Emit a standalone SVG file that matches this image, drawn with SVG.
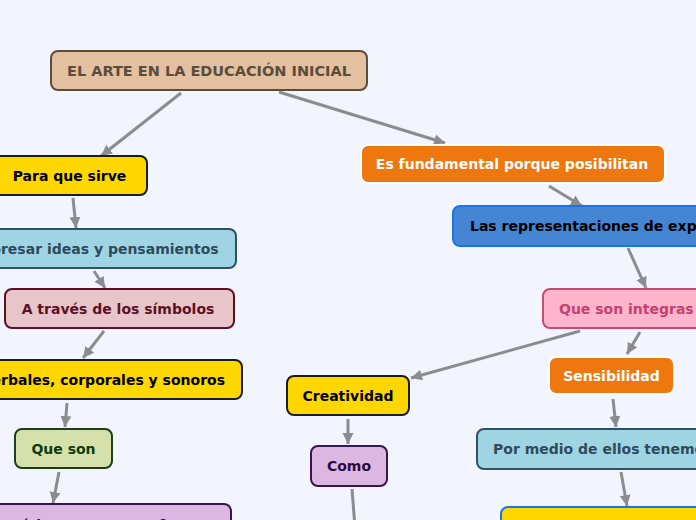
<svg xmlns="http://www.w3.org/2000/svg" width="696" height="520" viewBox="0 0 696 520">
<defs>
<marker id="arr" markerUnits="userSpaceOnUse" markerWidth="12" markerHeight="12" viewBox="0 0 12 12" refX="11" refY="6" orient="auto">
<path d="M0,0.5 L11,6 L0,11.5 z" fill="#8c8c90"/>
</marker>
<style>
text{font-family:"DejaVu Sans","Liberation Sans",sans-serif;font-weight:bold;font-size:14px;text-anchor:middle}
rect{stroke-width:2}
.conn line{stroke:#8c8c90;stroke-width:3;marker-end:url(#arr)}
.root rect{fill:#e2c0a0;stroke:#5b4c3c}.root text{fill:#5b4c3c;font-size:14.5px}
.gold rect{fill:#ffd700;stroke:#1c1c1c}.gold text{fill:#000}
.lblue rect{fill:#9fd5e2;stroke:#2e5068}.lblue text{fill:#2e4a5c}
.rose rect{fill:#e8c4cb;stroke:#5c1024}.rose text{fill:#5c1024}
.green rect{fill:#d5e0aa;stroke:#1d3d1d}.green text{fill:#0d3b12}
.lav rect{fill:#dbb7e1;stroke:#3a1450}.lav text{fill:#2c0a3e}
.orange rect{fill:#ee780f;stroke:#ffffff}.orange text{fill:#ffffff}
.blue rect{fill:#4586d4;stroke:#1a74e4}.blue text{fill:#000}
.pink rect{fill:#ffb6cd;stroke:#c84a72}.pink text{fill:#c8406c}
.goldb rect{fill:#ffd700;stroke:#1a74e4}
</style>
</defs>
<rect x="0" y="0" width="696" height="520" fill="#f2f5fe"/>
<g class="conn">
<line x1="181" y1="93" x2="101" y2="156"/>
<line x1="279" y1="92" x2="445" y2="143"/>
<line x1="73" y1="198" x2="76" y2="228"/>
<line x1="94" y1="271" x2="105" y2="288"/>
<line x1="104" y1="331" x2="83" y2="358"/>
<line x1="67" y1="403" x2="65" y2="427"/>
<line x1="59" y1="472" x2="53" y2="503"/>
<line x1="549" y1="186" x2="582" y2="206"/>
<line x1="628" y1="248" x2="646" y2="288"/>
<line x1="580" y1="331" x2="411" y2="378"/>
<line x1="640" y1="332" x2="627" y2="354"/>
<line x1="348" y1="419" x2="348" y2="444"/>
<line x1="613" y1="399" x2="616" y2="427"/>
<line x1="352" y1="489" x2="356" y2="540"/>
<line x1="621" y1="472" x2="627" y2="506"/>
</g>
<g id="root" class="root"><rect x="51" y="51" width="316" height="39" rx="7"/><text x="209" y="76">EL ARTE EN LA EDUCACIÓN INICIAL</text></g>
<g id="para" class="gold"><rect x="-7" y="156" width="154" height="39" rx="7"/><text x="69.5" y="180.5">Para que sirve</text></g>
<g id="expresar" class="lblue"><rect x="-45" y="229" width="281" height="39" rx="7"/><text x="95.5" y="253.5">Expresar ideas y pensamientos</text></g>
<g id="simbolos" class="rose"><rect x="5" y="289" width="229" height="39" rx="7"/><text x="118" y="313.5">A través de los símbolos</text></g>
<g id="verbales" class="gold"><rect x="-40" y="360" width="282" height="39" rx="7"/><text x="225" y="384.5" style="text-anchor:end">verbales, corporales y sonoros</text></g>
<g id="queson" class="green"><rect x="15" y="429" width="97" height="39" rx="7"/><text x="63.5" y="453.5">Que son</text></g>
<g id="esteticos" class="lav"><rect x="-60" y="504" width="291" height="40" rx="7"/><text x="-4.6" y="529.5" style="text-anchor:start">Estéticos, como una forma</text></g>
<g id="fundamental" class="orange"><rect x="361" y="145" width="304" height="38" rx="7"/><text x="512" y="169">Es fundamental porque posibilitan</text></g>
<g id="representaciones" class="blue"><rect x="453" y="206" width="280" height="40" rx="7"/><text x="470" y="231" style="text-anchor:start">Las representaciones de experiencias</text></g>
<g id="integras" class="pink"><rect x="543" y="289" width="170" height="39" rx="7"/><text x="559" y="313.5" style="text-anchor:start">Que son integras</text></g>
<g id="sensibilidad" class="orange"><rect x="549" y="357" width="125" height="37" rx="7"/><text x="611.5" y="380.5">Sensibilidad</text></g>
<g id="creatividad" class="gold"><rect x="287" y="376" width="122" height="39" rx="7"/><text x="348" y="400.5">Creatividad</text></g>
<g id="como" class="lav"><rect x="311" y="446" width="76" height="40" rx="7"/><text x="349" y="471">Como</text></g>
<g id="pormedio" class="lblue"><rect x="477" y="429" width="260" height="40" rx="7"/><text x="493" y="454" style="text-anchor:start">Por medio de ellos tenemos</text></g>
<g id="abajo" class="goldb"><rect x="501" y="507" width="260" height="40" rx="7"/></g>
</svg>
